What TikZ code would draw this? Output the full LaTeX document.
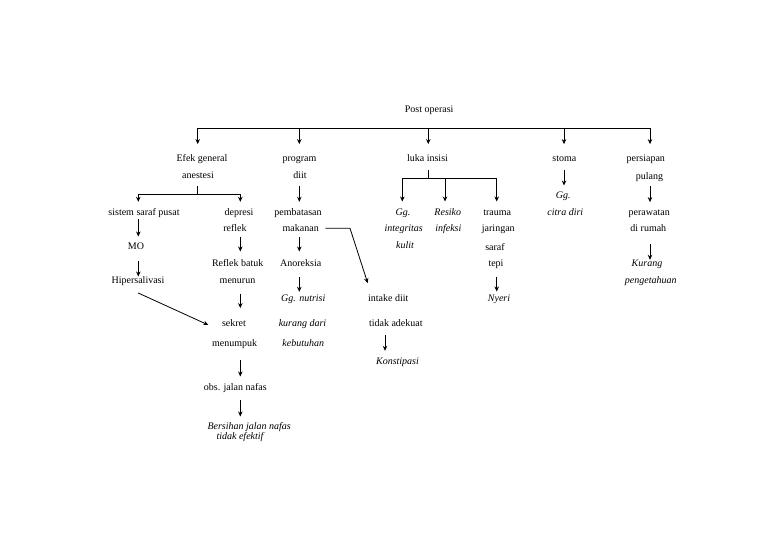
\documentclass[tikz,border=0pt]{standalone}
\usepackage{fontspec}
\setmainfont{Liberation Serif}
\usetikzlibrary{arrows.meta,calc}
\begin{document}
\begin{tikzpicture}[x=1pt,y=-1pt,
  t/.style={inner sep=0pt,text height=8pt,text depth=1pt,font=\fontsize{10}{12}\selectfont},
  ti/.style={t,font=\fontsize{10}{12}\selectfont\itshape},
  ln/.style={line width=0.8pt},
  arr/.style={ln,-{Stealth[length=5pt,width=4.5pt]}}]
\fill[white] (0,0) rectangle (768,543);
\useasboundingbox (0,0) rectangle (768,543);
% nodes
\node[t] (post) at (429.2,109) {Post operasi};
\node[t] (efek1) at (202,158.3) {Efek general};
\node[t] (efek2) at (198,175) {anestesi};
\node[t] (prog1) at (299.5,158.3) {program};
\node[t] (prog2) at (300,175) {diit};
\node[t] (luka) at (427.5,158.3) {luka insisi};
\node[t] (stoma) at (564.3,158.3) {stoma};
\node[t] (pers1) at (645.8,158.3) {persiapan};
\node[t] (pers2) at (649.5,175.5) {pulang};
\node[t] (ssp) at (144,211.7) {sistem saraf pusat};
\node[t] (dep1) at (239,211.7) {depresi};
\node[t] (dep2) at (235,228.3) {reflek};
\node[t] (mo) at (136,245.7) {MO};
\node[t] (hip) at (138,280) {Hipersalivasi};
\node[t] (rb1) at (237.7,263.3) {Reflek batuk};
\node[t] (rb2) at (237.5,280) {menurun};
\node[t] (sek1) at (234,323.3) {sekret};
\node[t] (sek2) at (234.7,343.3) {menumpuk};
\node[t] (obs) at (235.3,386.7) {obs. jalan nafas};
\node[ti] (ber1) at (249.2,425.7) {Bersihan jalan nafas};
\node[ti] (ber2) at (240,435.7) {tidak efektif};
\node[t] (pem1) at (298,211.7) {pembatasan};
\node[t] (pem2) at (300.7,228.3) {makanan};
\node[t] (ano) at (300.7,263.3) {Anoreksia};
\node[ti] (gn1) at (303.3,298.3) {Gg. nutrisi};
\node[ti] (gn2) at (302.5,323.3) {kurang dari};
\node[ti] (gn3) at (303.3,343.3) {kebutuhan};
\node[t] (int1) at (388.3,298.3) {intake diit};
\node[t] (int2) at (395.8,323.3) {tidak adekuat};
\node[ti] (kon) at (397.5,361) {Konstipasi};
\node[ti] (gi1) at (403,211.7) {Gg.};
\node[ti] (gi2) at (403.7,228.3) {integritas};
\node[ti] (gi3) at (405,245) {kulit};
\node[ti] (res1) at (447.8,211.7) {Resiko};
\node[ti] (res2) at (448.3,228.3) {infeksi};
\node[t] (tr1) at (497.2,211.7) {trauma};
\node[t] (tr2) at (498.3,228.3) {jaringan};
\node[t] (tr3) at (495,246.7) {saraf};
\node[t] (tr4) at (496,263.3) {tepi};
\node[ti] (nye) at (499,298.3) {Nyeri};
\node[ti] (gc1) at (563.3,195) {Gg.};
\node[ti] (gc2) at (565.3,211.7) {citra diri};
\node[t] (pr1) at (649.2,211.7) {perawatan};
\node[t] (pr2) at (648.3,228.3) {di rumah};
\node[ti] (kur1) at (647,263.3) {Kurang};
\node[ti] (kur2) at (650.8,280) {pengetahuan};
% helper coordinates
\coordinate (cA) at (138.3,0);
\coordinate (cB) at (240.3,0);
\coordinate (cC) at (299.3,0);
\coordinate (cE) at (197.7,0);
\coordinate (cK) at (385,0);
\coordinate (cL) at (402.3,0);
\coordinate (cLu) at (428.3,0);
\coordinate (cM) at (445,0);
\coordinate (cN) at (496.7,0);
\coordinate (cS) at (564,0);
\coordinate (cP) at (650,0);
\coordinate (rBar) at (0,128.3);
\coordinate (rE) at (0,194.3);
\coordinate (rL) at (0,178.3);
\coordinate (mk) at (350,228.3);
% top bar
\draw[ln] (cE |- rBar) -- (cP |- rBar);
\draw[arr,shorten >=9.5pt] (cE |- rBar) -- (cE |- efek1.north);
\draw[arr,shorten >=9.5pt] (cC |- rBar) -- (cC |- prog1.north);
\draw[arr,shorten >=9.5pt] (cLu |- rBar) -- (cLu |- luka.north);
\draw[arr,shorten >=9.5pt] (cS |- rBar) -- (cS |- stoma.north);
\draw[arr,shorten >=9.5pt] (cP |- rBar) -- (cP |- pers1.north);
% efek general branch
\draw[ln,shorten <=6.2pt] (cE |- efek2.south) -- (cE |- rE);
\draw[ln] (cA |- rE) -- (cB |- rE);
\draw[arr,shorten >=5.2pt] (cA |- rE) -- (cA |- ssp.north);
\draw[arr,shorten >=5.2pt] (cB |- rE) -- (cB |- dep1.north);
\draw[arr,shorten <=2.8pt,shorten >=4.5pt] (cA |- ssp.south) -- (cA |- mo.north);
\draw[arr,shorten <=10.5pt,shorten >=-1.2pt] (cA |- mo.south) -- (cA |- hip.north);
\draw[arr,shorten <=3.9pt,shorten >=7.1pt] (cB |- dep2.south) -- (cB |- rb1.north);
\draw[arr,shorten <=8.8pt,shorten >=10.5pt] (cB |- rb2.south) -- (cB |- sek1.north);
\draw[arr] ([yshift=-8.2pt]hip.south) -- ([xshift=-13.5pt,yshift=-1.7pt]sek1.west);
\draw[arr,shorten <=12.2pt,shorten >=5.5pt] (cB |- sek2.south) -- (cB |- obs.north);
\draw[arr,shorten <=8.8pt,shorten >=4.5pt] (cB |- obs.south) -- (cB |- ber1.north);
% program diit branch
\draw[arr,shorten <=6.2pt,shorten >=5.2pt] (cC |- prog2.south) -- (cC |- pem1.north);
\draw[arr,shorten <=3.9pt,shorten >=7.1pt] (cC |- pem2.south) -- (cC |- ano.north);
\draw[arr,shorten <=9.2pt,shorten >=1.8pt] (cC |- ano.south) -- (cC |- gn1.north);
\draw[arr] ([xshift=6.5pt]pem2.east) -- (mk) -- ([xshift=-20.6pt,yshift=10.5pt]int1.north);
\draw[arr,shorten <=6.5pt,shorten >=5.5pt] (cK |- int2.south) -- (cK |- kon.north);
% luka insisi branch
\draw[ln,shorten <=7.2pt] (cLu |- luka.south) -- (cLu |- rL);
\draw[ln] (cL |- rL) -- (cN |- rL);
\draw[arr,shorten >=5.5pt] (cL |- rL) -- (cL |- gi1.north);
\draw[arr,shorten >=5.5pt] (cM |- rL) -- (cM |- res1.north);
\draw[arr,shorten >=5.5pt] (cN |- rL) -- (cN |- tr1.north);
\draw[arr,shorten <=8.9pt,shorten >=2.1pt] (cN |- tr4.south) -- (cN |- nye.north);
% stoma
\draw[arr,shorten <=7.2pt,shorten >=4.8pt] (cS |- stoma.south) -- (cS |- gc1.north);
% persiapan pulang
\draw[arr,shorten <=5.7pt,shorten >=4.9pt] (cP |- pers2.south) -- (cP |- pr1.north);
\draw[arr,shorten <=10.5pt,shorten >=-1.2pt] (cP |- pr2.south) -- (cP |- kur1.north);
\end{tikzpicture}
\end{document}
